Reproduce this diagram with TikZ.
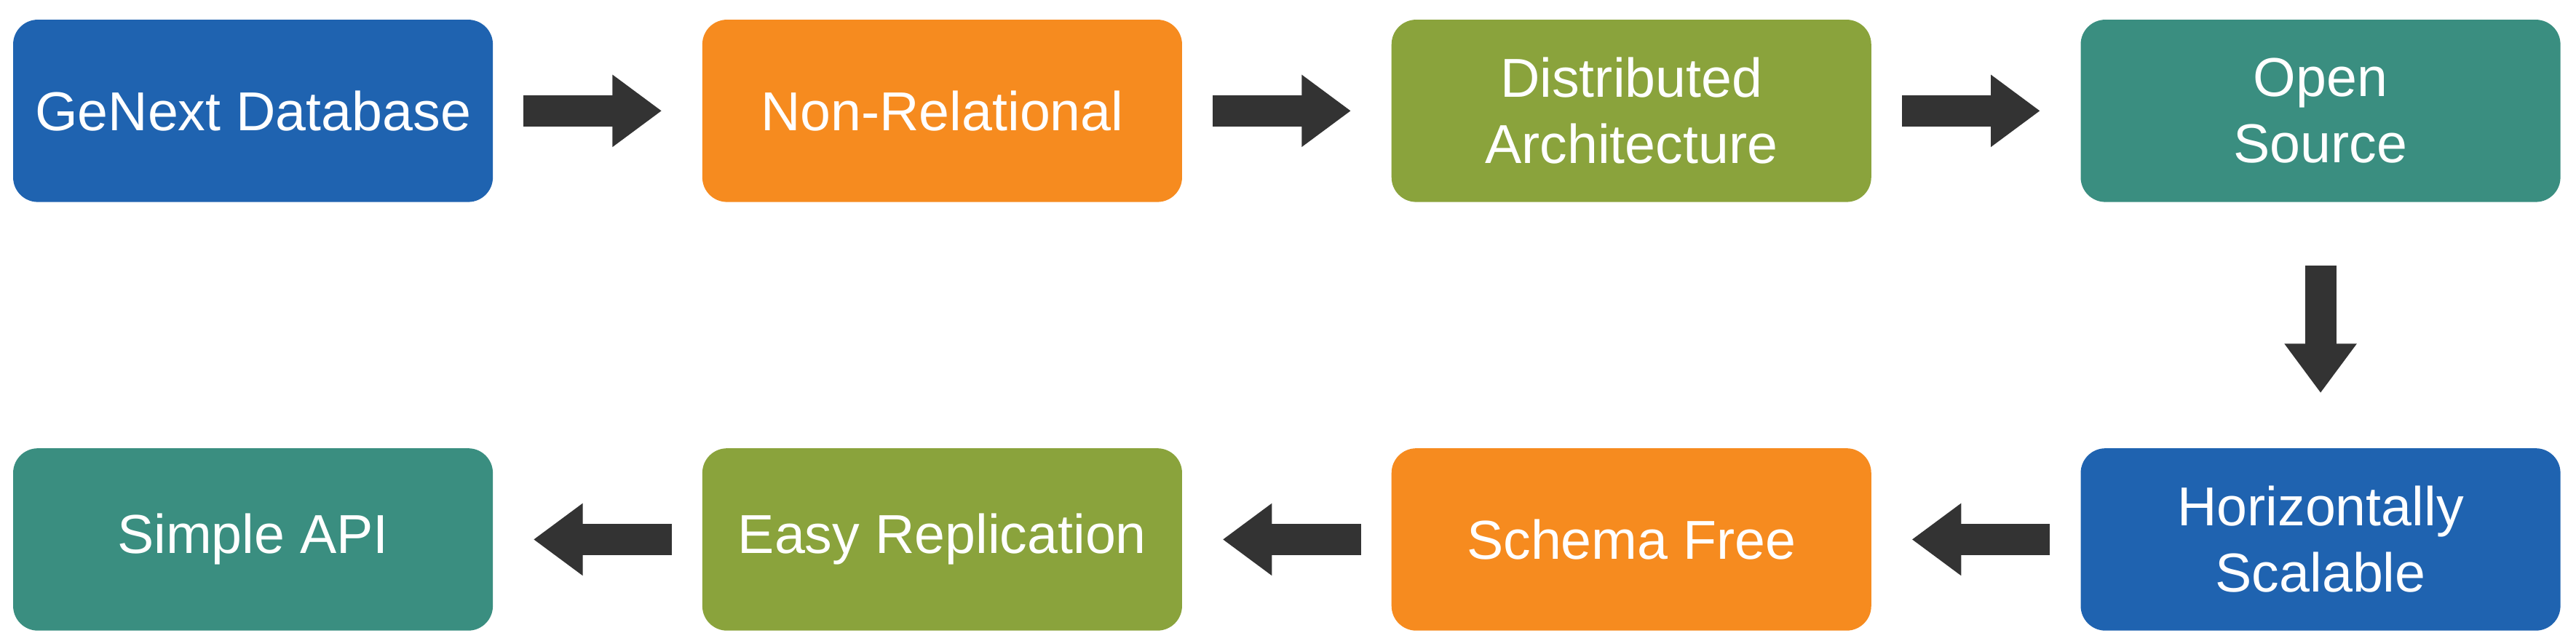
\documentclass[tikz,border=0pt]{standalone}
\usepackage{fontspec}
\setmainfont{Liberation Sans}
\usetikzlibrary{positioning, arrows.meta}
\definecolor{colblue}{HTML}{1F63B0}
\definecolor{colorange}{HTML}{F68B1F}
\definecolor{colgreen}{HTML}{8AA33C}
\definecolor{colteal}{HTML}{3A8E80}
\definecolor{colarrow}{HTML}{333333}
\tikzset{
  feature/.style = {rectangle, rounded corners = 0.15cm, minimum width = 2.92cm,
    minimum height = 1.11cm, text = white, align = center,
    font = \fontsize{9.5}{11.5}\selectfont},
  flow/.style = {draw = colarrow, line width = 0.19cm,
    -{Triangle[width = 0.42cm, length = 0.3cm]}, shorten < = 0.18cm, shorten > = 0.24cm}
}
\begin{document}
\begin{tikzpicture} [node distance = 2.61cm and 4.195cm, on grid]
\useasboundingbox (0,0) rectangle (15.68,-3.90);
\node (n1) [feature, fill = colblue] at (1.54,-0.675) {GeNext Database};
\node (n2) [feature, right = of n1, fill = colorange] {Non-Relational};
\node (n3) [feature, right = of n2, fill = colgreen] {Distributed\\Architecture};
\node (n4) [feature, right = of n3, fill = colteal] {Open\\Source};
\node (n5) [feature, below = of n4, fill = colblue] {Horizontally\\Scalable};
\node (n6) [feature, left = of n5, fill = colorange] {Schema Free};
\node (n7) [feature, left = of n6, fill = colgreen] {Easy Replication};
\node (n8) [feature, left = of n7, fill = colteal] {Simple API};
\draw [flow] (n1) -- (n2);
\draw [flow] (n2) -- (n3);
\draw [flow] (n3) -- (n4);
\draw [flow, shorten < = 0.38cm, shorten > = 0.33cm] (n4) -- (n5);
\draw [flow] (n5) -- (n6);
\draw [flow] (n6) -- (n7);
\draw [flow] (n7) -- (n8);
\end{tikzpicture}
\end{document}
